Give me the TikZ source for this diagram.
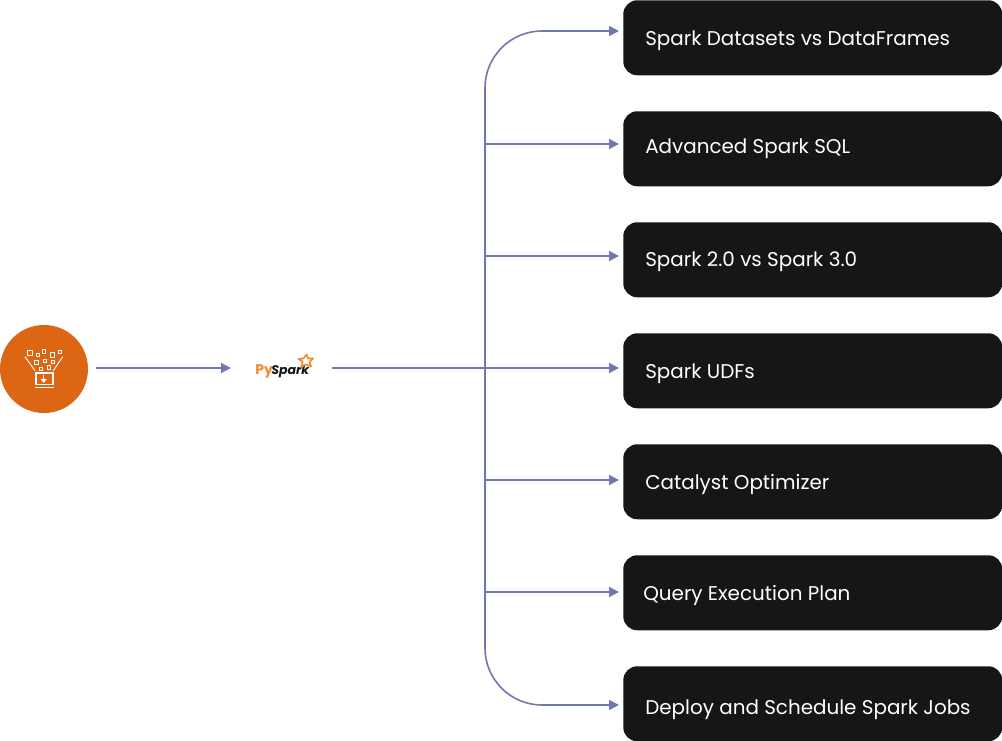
\documentclass[tikz,border=0pt]{standalone}
\usepackage{fontspec}
\setmainfont{Poppins}
\usetikzlibrary{arrows.meta}
\definecolor{boxfill}{HTML}{161616}
\definecolor{linec}{HTML}{7079AC}
\definecolor{orangec}{HTML}{DC6613}
\definecolor{sparkor}{HTML}{F28A2E}
\tikzset{
 boxnode/.style={fill=boxfill,rounded corners=10.5pt,minimum width=284.25pt,minimum height=56.25pt,inner sep=0,anchor=north west,draw=none},
 boxlabel/.style={text=white,font=\fontsize{14.93}{18}\selectfont,anchor=base west,inner sep=0},
 conn/.style={draw=linec,line width=1.2pt,-{Triangle[length=7.5pt,width=7.5pt]}},
 trunk/.style={draw=linec,line width=1.2pt},
 ic/.style={draw=white,line width=0.7pt},
 icb/.style={draw=white,line width=0.9pt},
}
\begin{document}
\begin{tikzpicture}[x=0.75pt,y=-0.75pt]
\useasboundingbox (0,0) rectangle (1002,741);
\foreach \n/\y in {1/0,2/111,3/222,4/333,5/444,6/555,7/666}{
 \node[boxnode] (b\n) at (623,\y) {};
}
\node[boxlabel] (l1) at (645,46) {Spark Datasets vs DataFrames};
\node[boxlabel] (l2) at (645,154) {Advanced Spark SQL};
\node[boxlabel] (l3) at (645,267) {Spark 2.0 vs Spark 3.0};
\node[boxlabel] (l4) at (645,378) {Spark UDFs};
\node[boxlabel] (l5) at (645,489) {Catalyst Optimizer};
\node[boxlabel] (l6) at (643,600) {Query Execution Plan};
\node[boxlabel] (l7) at (645,714) {Deploy and Schedule Spark Jobs};
% source circle
\node[circle,fill=orangec,minimum size=66pt,inner sep=0] (src) at (44,369) {};
% icon
\foreach \x/\y/\s in {30/352.7/5,37.7/355/3,44/351.7/3.5,52.3/355/4.5,60/352/3,36.3/362/4,45/361/3,53.3/362/3,41/368.7/3,49/367.7/3.5}{
 \draw[ic] (\x-\s/2,\y-\s/2) rectangle (\x+\s/2,\y+\s/2);
}
\draw[ic] (25,356.7) -- (35,370.7);
\draw[ic] (62.7,356.7) -- (53.3,370.7);
\draw[icb] (36,373) rectangle (53,384.5);
\draw[icb] (34.5,387.7) -- (54,387.7);
\draw[ic,-{Triangle[length=3pt,width=4.5pt]}] (43.7,375) -- (43.7,383);
% logo
\node[inner sep=0,anchor=base west,font=\fontsize{10.5}{12}\selectfont\bfseries,text=sparkor] (py) at (255,374) {Py};
\node[inner sep=0,anchor=base west,font=\fontsize{9.4}{12}\selectfont\itshape\bfseries,text=boxfill] (sp) at (271,374) {Spark};
\draw[sparkor,line width=1.3pt,line join=round,fill=white] (306.5,354.5) -- (308,358.5) -- (313,358.5) -- (309.5,362) -- (311,366.5) -- (306,364.5) -- (301.5,366.5) -- (302.5,361.5) -- (298.5,359) -- (303.5,358.5) -- cycle;
% connectors
\coordinate (logoR) at (332,368);
\coordinate (srcR) at (96,368);
\coordinate (logoL) at (231,368);
\draw[conn] (srcR) -- (logoL);
\coordinate (a1) at (619,31);
\coordinate (a2) at (619,144);
\coordinate (a3) at (619,256);
\coordinate (a4) at (619,368);
\coordinate (a5) at (619,480);
\coordinate (a6) at (619,592);
\coordinate (a7) at (619,705);
\coordinate (j2) at (485,144);
\coordinate (j3) at (485,256);
\coordinate (j5) at (485,480);
\coordinate (j6) at (485,592);
\coordinate (tt) at (485,88);
\coordinate (tb) at (485,648);
\draw[trunk] (tt) -- (tb);
\draw[conn] (tt) arc[start angle=180,end angle=270,radius=57] -- (a1);
\draw[conn] (tb) arc[start angle=180,end angle=90,radius=57] -- (a7);
\draw[conn] (j2) -- (a2);
\draw[conn] (j3) -- (a3);
\draw[conn] (logoR) -- (a4);
\draw[conn] (j5) -- (a5);
\draw[conn] (j6) -- (a6);
\end{tikzpicture}
\end{document}
